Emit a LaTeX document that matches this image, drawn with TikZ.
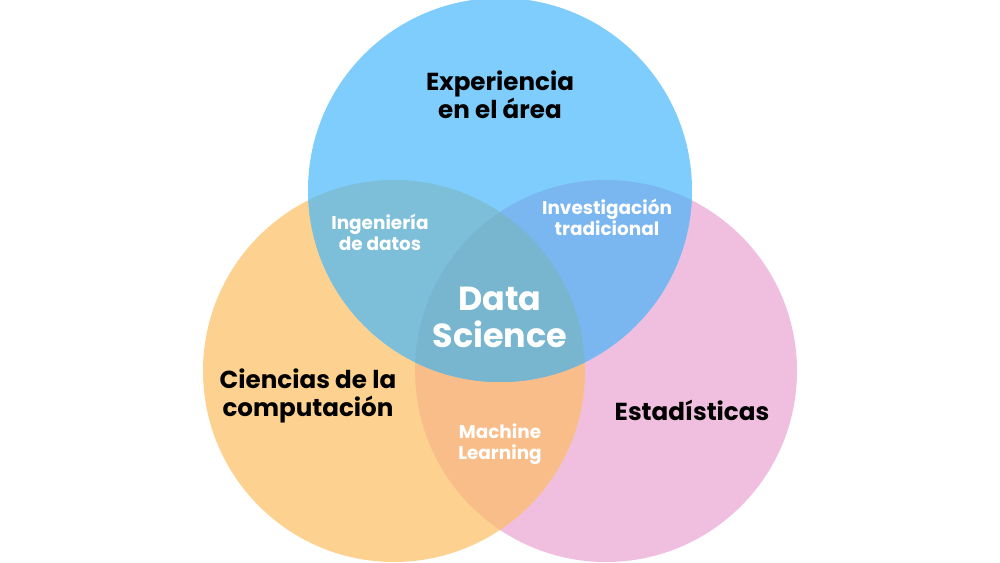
\documentclass[tikz,border=0pt]{standalone}
\usepackage{fontspec}
\setmainfont{Poppins}
\begin{document}
\begin{tikzpicture}[x=0.02cm,y=-0.02cm,
  dark/.style={font=\bfseries\fontsize{14}{16}\selectfont,align=center,text=black},
  light/.style={font=\bfseries\fontsize{10.5}{12}\selectfont,align=center,text=white},
  big/.style={font=\bfseries\fontsize{19}{21}\selectfont,align=center,text=white}]
\useasboundingbox (0,0) rectangle (1000,563);
\def\B{(500,190) circle (192)}
\def\O{(394,371) circle (191)}
\def\P{(606,371) circle (191)}
\fill[fill={rgb,255:red,240;green,190;blue,223}] \P;
\fill[fill={rgb,255:red,253;green,210;blue,144}] \O;
\fill[fill={rgb,255:red,127;green,205;blue,253}] \B;
\begin{scope}\clip \O; \fill[fill={rgb,255:red,248;green,189;blue,137}] \P;\end{scope}
\begin{scope}\clip \B; \fill[fill={rgb,255:red,125;green,191;blue,217}] \O;\end{scope}
\begin{scope}\clip \B; \fill[fill={rgb,255:red,122;green,182;blue,240}] \P;\end{scope}
\begin{scope}\clip \B; \clip \O; \fill[fill={rgb,255:red,120;green,182;blue,207}] \P;\end{scope}
\node[dark] (exp) at (500,95) {Experiencia\\en el área};
\node[dark] (cie) at (308,396) {Ciencias de la\\computación};
\node[dark] (est) at (692,410) {Estadísticas};
\node[light] (ing) at (380,232) {Ingeniería\\de datos};
\node[light] (inv) at (607,217) {Investigación\\tradicional};
\node[light] (ml) at (500,444) {Machine\\Learning};
\node[big] (ds) at (500,317) {Data\\Science};
\end{tikzpicture}
\end{document}
